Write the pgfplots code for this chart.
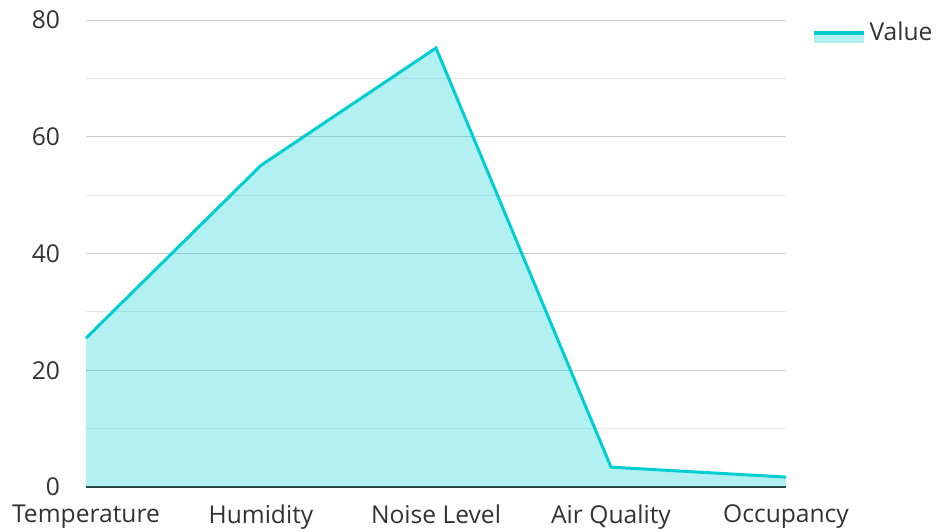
\documentclass[border=0pt]{standalone}
\usepackage{pgfplots}
\pgfplotsset{compat=1.18}
\usepackage{fontspec}
\setmainfont{Open Sans}
\definecolor{lc}{HTML}{00CED1}
\definecolor{txt}{HTML}{333333}
\begin{document}
\begin{tikzpicture}
\useasboundingbox (0,0) rectangle (468.5pt,265.5pt);
\begin{axis}[
  at={(43pt,22pt)}, anchor=south west,
  scale only axis, width=350pt, height=233.5pt,
  xmin=0, xmax=4, ymin=0, ymax=80,
  xtick={0,1,2,3,4},
  xticklabels={Temperature,Humidity,Noise Level,Air Quality,Occupancy},
  ytick={0,20,40,60,80},
  minor ytick={10,30,50,70},
  ymajorgrids, yminorgrids,
  major grid style={draw=black!20, line width=0.5pt},
  minor grid style={draw=black!9, line width=0.5pt},
  axis x line*=bottom, axis y line*=left,
  x axis line style={draw=txt, line width=0.8pt, -},
  y axis line style={draw=none},
  major tick length=0pt, minor tick length=0pt,
  tick style={draw=none},
  ticklabel style={font=\fontsize{12.3}{14}\selectfont, text=txt},
  yticklabel style={xshift=-9.5pt},
  xticklabel style={yshift=-5.5pt},
  /pgf/number format/assume math mode=true,
  legend style={at={(1.037,0.972)}, anchor=west, draw=none, fill=none,
    font=\fontsize{12.3}{14}\selectfont, text=txt, inner sep=0pt},
  legend image code/.code={
    \path[fill=lc, fill opacity=0.3, draw=none] (0pt,-5pt) rectangle (25pt,0pt);
    \path[draw=lc, line width=1.6pt] (0pt,0pt) -- (25pt,0pt);
  },
  clip=false,
]
\addplot[draw=none, fill=lc, fill opacity=0.3, forget plot] coordinates {
  (0,25.5) (1,55.1) (2,75.2) (3,3.4) (4,1.7)
} \closedcycle;
\addplot[draw=lc, line width=1.5pt] coordinates {
  (0,25.5) (1,55.1) (2,75.2) (3,3.4) (4,1.7)
};
\addlegendentry{Value}
\end{axis}
\end{tikzpicture}
\end{document}
